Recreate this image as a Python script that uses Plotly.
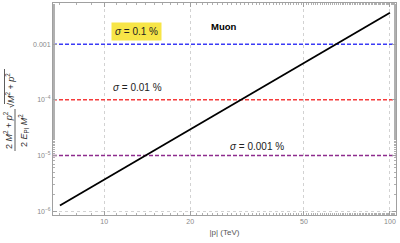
import math
import plotly.graph_objects as go

# data
p_tev = [7, 10, 20, 30, 50, 70, 100]
ratio = [1.26e-6, 3.67e-6, 2.94e-5, 9.9e-5, 4.59e-4, 1.26e-3, 3.67e-3]

sigma_levels = [1e-3, 1e-4, 1e-5]
sigma_colors = ["#3b3bf5", "#f53b3b", "#8e2c8e"]
sigma_labels = ["σ = 0.1 %", "σ = 0.01 %", "σ = 0.001 %"]

x_ticks = [10, 20, 50, 100]
x_ticktext = ["10", "20", "50", "100"]
y_ticks = [1e-6, 1e-5, 1e-4, 1e-3]
y_ticktext = ["10<sup>−6</sup>", "10<sup>−5</sup>", "10<sup>−4</sup>", "0.001"]

x_range = [6.62, 105]
y_range = [8.5e-7, 5.5e-3]

W, H = 400, 243
ML, MR, MT, MB = 53, 4, 3, 28
PW, PH = W - ML - MR, H - MT - MB


def px(xp):
    return (xp - ML) / PW


def py(yp):
    return (H - MB - yp) / PH


fig = go.Figure()
for lvl, col in zip(sigma_levels, sigma_colors):
    fig.add_trace(go.Scatter(x=x_range, y=[lvl, lvl], mode="lines",
                             line=dict(color=col, width=1.6, dash="4px,2px"),
                             hoverinfo="skip", showlegend=False))
fig.add_trace(go.Scatter(x=p_tev, y=ratio, mode="lines",
                         line=dict(color="black", width=1.8), showlegend=False))

fig.update_layout(
    width=W, height=H,
    margin=dict(l=ML, r=MR, t=MT, b=MB, autoexpand=False),
    paper_bgcolor="white", plot_bgcolor="white",
    font=dict(family="Liberation Sans, Arial, sans-serif"),
)
axis_common = dict(
    showline=True, linecolor="#a0a0a0", linewidth=1, mirror="ticks",
    ticks="inside", ticklen=4, tickcolor="#a0a0a0", automargin=False,
    showgrid=True, gridcolor="#d2d2d2", griddash="dot", gridwidth=1,
    tickfont=dict(size=7, color="#888888"), zeroline=False,
)
fig.update_xaxes(type="log", range=[math.log10(x_range[0]), math.log10(x_range[1])],
                 tickvals=x_ticks, ticktext=x_ticktext,
                 minor=dict(ticks="inside", ticklen=2, tickcolor="#b0b0b0", showgrid=False),
                 title=dict(text="|p| (TeV)", font=dict(size=8, color="#555555"), standoff=4),
                 **axis_common)
fig.update_yaxes(type="log", range=[math.log10(y_range[0]), math.log10(y_range[1])],
                 tickvals=y_ticks, ticktext=y_ticktext,
                 minor=dict(ticks="inside", ticklen=2, tickcolor="#b0b0b0", showgrid=False),
                 **axis_common)

C = dict(xref="paper", yref="paper", xanchor="center", yanchor="middle", showarrow=False)

# y-axis title: (2M^2+p^2)/(2 E_Pl M^2) * sqrt(M^2+p^2), rotated
tf = dict(size=9, color="#333333")
fig.add_annotation(x=px(8), y=py(130), text="2 <i>M</i><sup>2</sup> + <i>p</i><sup>2</sup>",
                   textangle=-90, font=tf, **C)
fig.add_annotation(x=px(23), y=py(131), text="2 <i>E</i><sub>Pl</sub> <i>M</i><sup>2</sup>",
                   textangle=-90, font=tf, **C)
fig.add_shape(type="line", xref="paper", yref="paper", x0=px(15), x1=px(15), y0=py(151), y1=py(109),
              line=dict(color="#333333", width=0.8))
fig.add_annotation(x=px(10), y=py(90), text="√<i>M</i><sup>2</sup> + <i>p</i><sup>2</sup>",
                   textangle=-90, font=tf, **C)
fig.add_shape(type="line", xref="paper", yref="paper", x0=px(4.5), x1=px(4.5), y0=py(104), y1=py(69),
              line=dict(color="#333333", width=0.8))

# labels
fig.add_annotation(x=px(136), y=py(31.5), text="<i>σ</i> = 0.1 %", bgcolor="#f7e547",
                   font=dict(size=10, color="#222222"), borderpad=3, **C)
fig.add_annotation(x=px(224), y=py(26), text="<b>Muon</b>",
                   font=dict(size=9.5, color="black"), **C)
fig.add_annotation(x=px(137), y=py(87), text="<i>σ</i> = 0.01 %",
                   font=dict(size=10, color="#222222"), **C)
fig.add_annotation(x=px(257), y=py(146), text="<i>σ</i> = 0.001 %",
                   font=dict(size=10, color="#222222"), **C)

fig.write_html("out.html", config={"displayModeBar": False},
               post_script="document.body.style.margin='0';document.body.style.overflow='hidden';")
